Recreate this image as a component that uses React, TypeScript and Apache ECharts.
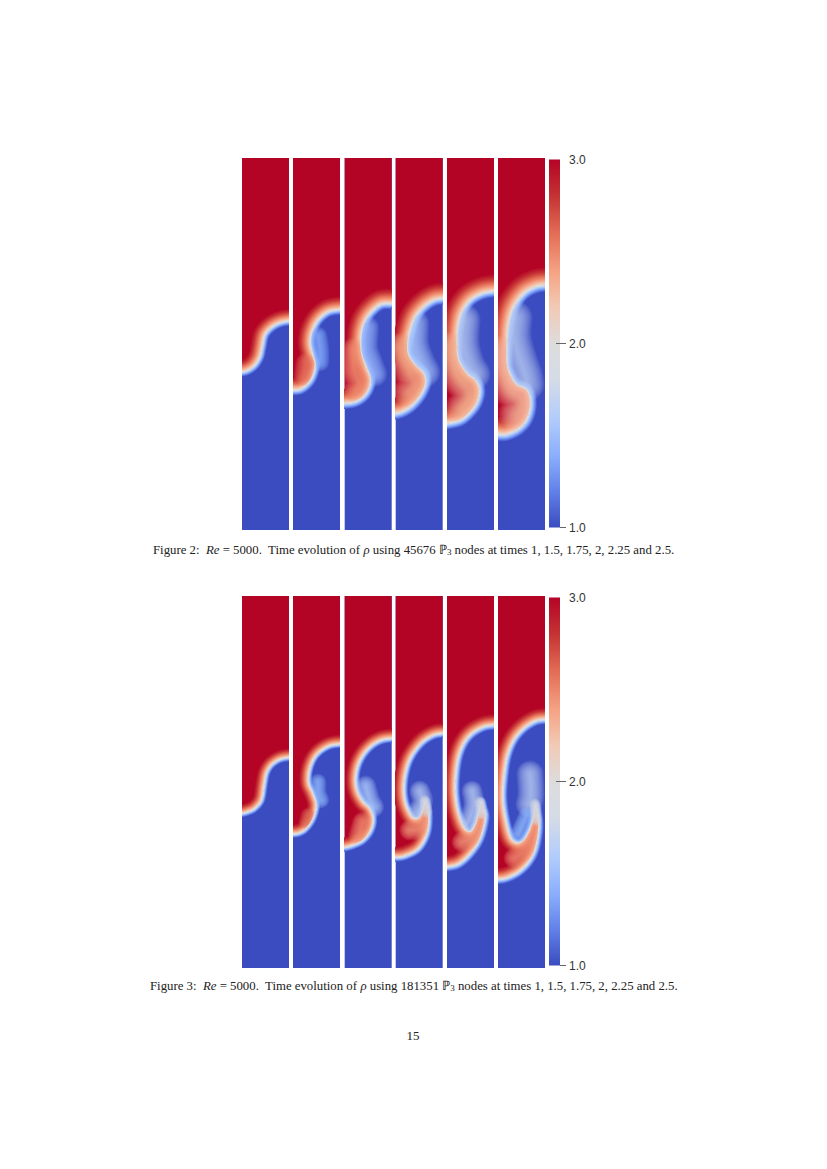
import React, { useEffect, useRef } from "react";
import * as echarts from "echarts";

type Pt = [number, number];
type Soft = { pts: Pt[]; peak: number; width: number };

const timesCaption = "nodes at times 1, 1.5, 1.75, 2, 2.25 and 2.5.";
const colorbarTicks = [1, 2, 3];
const longTicks = [2];
const coolwarm = ["#3b4cc0", "#6282ea", "#8db0fe", "#b3cdfb", "#d4dbe6", "#dddcdc", "#f2cab5", "#f5a081", "#e36c55", "#c53334", "#b40426"];

// Fig. 2: interface rho = 2 from right wall to left wall, one curve per time
const fig2Fronts: Pt[][] = [
  [[47, 162.7], [37.7, 164.7], [29.3, 169.3], [22.7, 177], [20, 188.7], [17.7, 198.7], [12.7, 207], [6, 212], [0, 213.7]],
  [[47, 151.3], [35, 153.7], [25, 162], [19, 173.7], [17.3, 185.3], [20, 197], [22.3, 207], [19, 219.3], [13.3, 227], [6.7, 231.3], [0, 232]],
  [[47, 145.3], [36.7, 146], [28.3, 152], [21.7, 160.3], [17.3, 172], [16, 185.3], [17.3, 197], [21.7, 208.7], [25.7, 220.3], [24, 230.3], [18.3, 238.7], [10, 243.7], [0, 245.3]],
  [[47, 140.3], [38, 142], [28, 148.7], [19.7, 158.7], [14.7, 172], [12, 185.3], [13, 197], [19.7, 207], [28, 215.3], [29.7, 225.3], [24.7, 237], [16.3, 247], [8, 252.7], [0, 255.3]],
  [[47, 133], [35, 135.3], [23.3, 142], [15, 153.7], [11, 168.7], [10, 185.3], [11.7, 202], [20, 215.3], [28.3, 222], [32.3, 232], [30, 243.7], [23.3, 253.7], [13.3, 262], [0, 265.3]],
  [[47, 127], [37.3, 128.7], [25.7, 135.3], [15.7, 148.7], [10.7, 165.3], [9, 185.3], [9, 205.3], [11.5, 215], [18, 226], [29, 232], [32.3, 245.3], [29, 260.3], [20.7, 270.3], [9, 276], [0, 276.3]],
];
const fig2Cores: Soft[][] = [
  [],
  [{ pts: [[25, 178], [27, 192], [27, 204]], peak: 0.2, width: 18 }],
  [{ pts: [[22, 170], [21, 190], [26, 205], [30, 216]], peak: 0.24, width: 24 }],
  [{ pts: [[18, 166], [18, 187], [24, 204], [29, 214]], peak: 0.3, width: 30 }],
  [{ pts: [[17, 162], [16, 185], [21, 205], [27, 216]], peak: 0.32, width: 32 }],
  [{ pts: [[17, 160], [16, 179], [21, 199], [27, 216], [29, 226]], peak: 0.33, width: 34 }],
];
const fig2Arms: Soft[][] = [
  [],
  [{ pts: [[13, 205], [11, 218]], peak: 0.78, width: 20 }],
  [{ pts: [[9, 192], [9, 212], [14, 225], [11, 232]], peak: 0.72, width: 24 }],
  [{ pts: [[6, 190], [14, 215], [19, 226], [13, 234]], peak: 0.68, width: 30 }],
  [{ pts: [[5, 190], [9, 215], [20, 232], [21, 241], [15, 250]], peak: 0.66, width: 32 }],
  [{ pts: [[4, 195], [12, 230], [25, 244], [18, 256]], peak: 0.65, width: 34 }],
];
const fig2BlueW = [5, 5.5, 6, 6.5, 6.5, 7];
const fig2RedW = [12, 13, 15, 16, 17, 18];

// Fig. 3: same panels with the finer mesh
const fig3Fronts: Pt[][] = [
  [[47, 161.3], [37.7, 163.3], [29.3, 169], [24.3, 177.3], [22, 189], [19.3, 204], [12.7, 212.3], [6, 215.7], [0, 217.3]],
  [[47, 148], [36.7, 149.7], [26.7, 155.7], [20, 164], [16, 175.7], [15.7, 187.3], [20, 197.3], [23.3, 209], [20, 222.3], [13.3, 232.3], [6.7, 236.7], [0, 238]],
  [[47, 142.3], [36.7, 144], [26.7, 149.7], [18.3, 159], [12.7, 170.7], [10.7, 184], [12.7, 195.7], [18.3, 205.7], [25, 212.3], [28.3, 222.3], [26, 234], [18.3, 244], [8.3, 249], [0, 251.3]],
  [[47, 137.3], [38, 139], [28, 145], [19.7, 154], [13, 165.7], [9, 180.7], [8, 195.7], [10.3, 209], [16.3, 220.7], [23, 222], [27, 214], [30, 205], [33, 219], [31.3, 237], [23, 252.3], [9.7, 259.7], [0, 261.3]],
  [[47, 129], [36.7, 130.7], [25, 137.3], [16.7, 147.3], [11, 162.3], [8.3, 182.3], [8.3, 199], [11, 215.7], [16.7, 230.7], [23, 235.7], [28, 229], [32, 216], [34, 206], [36, 212], [38, 222], [33, 242.3], [23.3, 257.3], [11.7, 267.7], [0, 270.7]],
  [[47, 123.3], [37.3, 125], [25.7, 132.3], [15.7, 144], [9, 160.7], [5.7, 182.3], [4.7, 202.3], [7.3, 222.3], [12.3, 240.7], [19, 246.7], [25.7, 244], [32.3, 232.3], [35.7, 219], [37.5, 209], [39.7, 219], [40.7, 232.3], [37.3, 252.3], [30.7, 265.7], [20.7, 275.7], [9, 281.7], [0, 283.3]],
];
const fig3Cores: Soft[][] = [
  [],
  [{ pts: [[25, 186], [25, 196], [28, 204]], peak: 0.22, width: 16 }],
  [{ pts: [[21, 190], [25, 204], [29, 211]], peak: 0.3, width: 20 }],
  [{ pts: [[24, 195], [27, 206], [21, 217]], peak: 0.32, width: 20 }],
  [{ pts: [[25, 195], [27, 208], [23, 222], [19, 228]], peak: 0.32, width: 20 }],
  [{ pts: [[32, 178], [33, 198], [31, 208]], peak: 0.33, width: 26 }, { pts: [[29, 219], [20, 238]], peak: 0.22, width: 16 }],
];
const fig3Arms: Soft[][] = [
  [],
  [{ pts: [[15, 219], [13, 226]], peak: 0.8, width: 14 }],
  [{ pts: [[18, 226], [14, 240]], peak: 0.72, width: 20 }],
  [{ pts: [[14, 234], [24, 232], [30, 222]], peak: 0.7, width: 20 }],
  [{ pts: [[15, 246], [27, 241], [33, 226]], peak: 0.7, width: 20 }],
  [{ pts: [[16, 262], [29, 252], [37, 232]], peak: 0.72, width: 20 }],
];
const fig3Tips: Soft[][] = [
  [],
  [],
  [],
  [{ pts: [[29, 205], [31, 216]], peak: 0.42, width: 11 }],
  [{ pts: [[33, 206], [35, 218]], peak: 0.42, width: 11 }],
  [{ pts: [[37, 208], [38.5, 224]], peak: 0.42, width: 11 }],
];
const fig3BlueW = [4, 4, 4.5, 4.5, 5, 5];
const fig3RedW = [9, 9.5, 10, 10.5, 11, 11.5];

const panelLefts = [242, 293, 344.7, 395.7, 447, 498];
const PANEL_W = 47;
const PANEL_H = 372;

const ramp = (t: number) => echarts.color.lerp(t, coolwarm) as string;

function spline(p: number[][]): number[][] {
  const out: number[][] = [];
  for (let i = 0; i < p.length - 1; i++) {
    const a = p[Math.max(0, i - 1)], b = p[i], c = p[i + 1], d = p[Math.min(p.length - 1, i + 2)];
    for (let k = 0; k < 6; k++) {
      const t = k / 6, t2 = t * t, t3 = t2 * t;
      out.push([0, 1].map((j) => 0.5 * (2 * b[j] + (c[j] - a[j]) * t + (2 * a[j] - 5 * b[j] + 4 * c[j] - d[j]) * t2 + (3 * b[j] - a[j] - 3 * c[j] + d[j]) * t3)));
    }
  }
  out.push(p[p.length - 1]);
  return out;
}

function stroke(points: number[][], lineWidth: number, value: number, opacity = 1) {
  return {
    type: "polyline",
    shape: { points },
    silent: true,
    style: { fill: null, stroke: ramp(value), lineWidth, opacity, lineCap: "round", lineJoin: "round" },
  };
}

function softStrokes(points: number[][], soft: Soft) {
  const els: any[] = [];
  const n = 16;
  for (let i = 0; i < n; i++) {
    const t = i / (n - 1);
    els.push(stroke(points, soft.width * (1 - t) + 1, soft.peak, 0.1));
  }
  return els;
}

function bandStrokes(line: number[][], W: number, from: number, to: number, n: number) {
  const els: any[] = [];
  for (let i = 1; i <= n; i++) {
    const u = i / n;
    els.push(stroke(line, 2 * W * Math.pow(1 - u + 0.02, 1.5) + 0.4, from + (to - from) * u));
  }
  return els;
}

function panelSeries(index: number, front: Pt[], cores: Soft[], arms: Soft[], tips: Soft[], blueW: number, redW: number) {
  return {
    type: "custom",
    xAxisIndex: index,
    yAxisIndex: index,
    clip: true,
    silent: true,
    data: [[0, 0]],
    renderItem: (_: any, api: any) => {
      const map = (p: Pt) => api.coord(p) as number[];
      const ext: Pt[] = [[front[0][0] + 6, front[0][1]], ...front, [-6, front[front.length - 1][1]]];
      const line = spline(ext.map(map));
      const poly = [...line, map([-6, -10]), map([PANEL_W + 6, -10])];
      const tl = map([0, 0]);
      const br = map([PANEL_W, PANEL_H]);
      const rect = { x: tl[0], y: tl[1], width: br[0] - tl[0], height: br[1] - tl[1] };
      const blueKids: any[] = [{ type: "rect", shape: rect, silent: true, style: { fill: coolwarm[0] } }];
      blueKids.push(...bandStrokes(line, blueW, 0, 0.5, 14));
      cores.forEach((s) => blueKids.push(...softStrokes(spline(s.pts.map(map)), s)));
      const redKids: any[] = [{ type: "rect", shape: rect, silent: true, style: { fill: coolwarm[10] } }];
      redKids.push(...bandStrokes(line, redW, 1, 0.5, 18));
      arms.forEach((s) => redKids.push(...softStrokes(spline(s.pts.map(map)), s)));
      const topKids: any[] = [stroke(line, 1.2, 0.5)];
      tips.forEach((s) => topKids.push(...softStrokes(spline(s.pts.map(map)), s)));
      return {
        type: "group",
        children: [
          { type: "group", children: blueKids },
          { type: "group", clipPath: { type: "polygon", shape: { points: poly } }, children: redKids },
          { type: "group", children: topKids },
        ],
      };
    },
  };
}

function buildOption() {
  const grids: any[] = [];
  const xAxes: any[] = [];
  const yAxes: any[] = [];
  const series: any[] = [];
  const noSoft: Soft[][] = [[], [], [], [], [], []];
  const figs = [
    { top: 158, fronts: fig2Fronts, cores: fig2Cores, arms: fig2Arms, tips: noSoft, blueW: fig2BlueW, redW: fig2RedW },
    { top: 596, fronts: fig3Fronts, cores: fig3Cores, arms: fig3Arms, tips: fig3Tips, blueW: fig3BlueW, redW: fig3RedW },
  ];
  figs.forEach((f) => {
    panelLefts.forEach((left, i) => {
      const idx = grids.length;
      grids.push({ left, top: f.top, width: PANEL_W, height: PANEL_H });
      xAxes.push({ type: "value", gridIndex: idx, min: 0, max: PANEL_W, show: false });
      yAxes.push({ type: "value", gridIndex: idx, min: 0, max: PANEL_H, inverse: true, show: false });
      series.push(panelSeries(idx, f.fronts[i], f.cores[i], f.arms[i], f.tips[i], f.blueW[i], f.redW[i]));
    });
    const idx = grids.length;
    grids.push({ left: 549, top: f.top + 1.5, width: 11, height: 368 });
    xAxes.push({ type: "category", gridIndex: idx, data: ["rho"], show: false });
    yAxes.push({
      type: "value",
      gridIndex: idx,
      min: 1,
      max: 3,
      interval: 1,
      position: "right",
      splitLine: { show: false },
      axisLine: { show: false },
      axisTick: { show: true, length: 6, customValues: [1, 2], lineStyle: { color: "#666", width: 1 } },
      axisLabel: {
        show: true,
        margin: 9,
        fontFamily: "Liberation Sans",
        fontSize: 12,
        color: "#333",
        customValues: colorbarTicks,
        formatter: (v: number) => v.toFixed(1),
      },
    });
    series.push({
      type: "bar",
      xAxisIndex: idx,
      yAxisIndex: idx,
      barWidth: "100%",
      silent: true,
      data: [3],
      itemStyle: {
        color: new echarts.graphic.LinearGradient(
          0, 1, 0, 0,
          coolwarm.map((color, k) => ({ offset: k / (coolwarm.length - 1), color }))
        ),
      },
    });
    series.push({
      type: "custom",
      xAxisIndex: idx,
      yAxisIndex: idx,
      silent: true,
      z: 5,
      data: longTicks.map((v) => [0, v]),
      renderItem: (_: any, api: any) => {
        const p = api.coord([api.value(0), api.value(1)]);
        return {
          type: "line",
          silent: true,
          shape: { x1: p[0] + 1.5, y1: p[1], x2: p[0] + 5.5, y2: p[1] },
          style: { stroke: "#666", lineWidth: 1 },
        };
      },
    });
  });

  const caption = (n: string, count: string, x: number, y: number) => ({
    type: "text",
    x,
    y,
    silent: true,
    style: {
      text: `Figure ${n}:  {i|Re} = 5000.  Time evolution of {i|ρ} using ${count} ℙ{s|3} ${timesCaption}`,
      font: '12.8px "Liberation Serif"',
      fill: "#222",
      verticalAlign: "middle",
      rich: {
        i: { font: 'italic 12.8px "Liberation Serif"', fill: "#222" },
        s: { font: '9px "Liberation Serif"', fill: "#222", padding: [3, 0, 0, 0] },
      },
    },
  });

  return {
    animation: false,
    backgroundColor: "#ffffff",
    grid: grids,
    xAxis: xAxes,
    yAxis: yAxes,
    series,
    graphic: [
      caption("2", "45676", 153, 550),
      caption("3", "181351", 150, 986),
      {
        type: "text",
        x: 413,
        y: 1035,
        silent: true,
        style: { text: "15", font: '13px "Liberation Serif"', fill: "#222", align: "center", verticalAlign: "middle" },
      },
    ],
  };
}

export default function App() {
  const ref = useRef<HTMLDivElement>(null);
  useEffect(() => {
    const chart = echarts.init(ref.current!, undefined, { renderer: "svg" });
    chart.setOption(buildOption() as any);
    return () => chart.dispose();
  }, []);
  return <div ref={ref} style={{ position: "absolute", left: 0, top: 0, width: 827, height: 1169 }} />;
}
